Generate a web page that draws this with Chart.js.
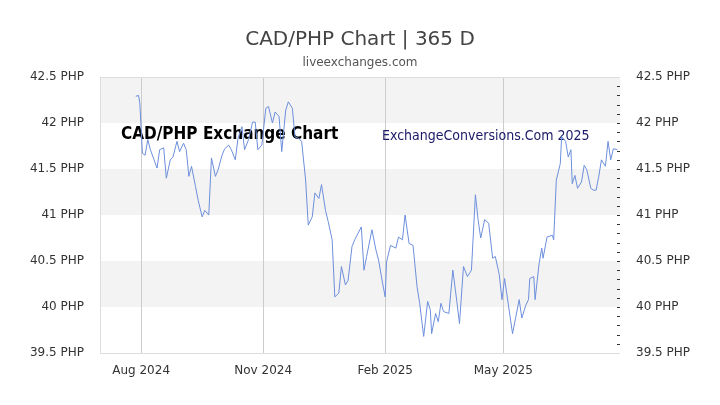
<!DOCTYPE html>
<html lang="en">
<head>
<meta charset="UTF-8">
<title>CAD/PHP Chart</title>
<script src="https://cdn.jsdelivr.net/npm/chart.js"></script>
<style>
  html, body { margin: 0; padding: 0; background: #fff; }
  #wrap { width: 720px; height: 405px; }
</style>
</head>
<body>
<div id="wrap"><canvas id="rateChart" width="720" height="405"></canvas></div>
<script>
// days since 26 Jul 2024
const days = [2,4,5,7,9,11,13,15,18,20,23,25,28,30,33,35,38,40,42,44,47,49,52,54,57,59,62,64,67,69,72,74,77,79,82,84,87,90,92,94,97,100,102,105,107,110,112,115,117,120,122,125,127,130,132,135,137,140,142,145,147,150,152,155,157,160,162,165,167,172,
  174,176,180,183,185,188,190,191,194,198,200,203,205,208,211,214,216,219,222,224,225,228,230,232,234,238,241,244,246,249,252,255,258,260,262,265,268,271,273,276,278,280,282,286,288,291,293,296,298,299,302,303,306,308,309,312,316,317,319,322,323,326,328,330,331,333,335,338,340,342,345,347,349,351,353,356,358,360,362,365];
const rates = [42.29,42.30,42.22,41.67,41.65,41.82,41.71,41.63,41.51,41.71,41.73,41.40,41.60,41.63,41.80,41.69,41.78,41.71,41.42,41.53,41.31,41.16,40.98,41.05,41.00,41.62,41.42,41.49,41.65,41.72,41.76,41.71,41.60,41.83,41.96,41.71,41.82,42.01,42.01,41.71,41.76,42.16,42.18,42.00,42.12,42.07,41.69,42.14,42.23,42.16,41.85,41.83,41.80,41.38,40.89,40.98,41.24,41.18,41.33,41.05,40.93,40.73,40.11,40.15,40.44,40.24,40.29,40.66,40.73,40.87,
  40.40,40.55,40.84,40.62,40.51,40.26,40.11,40.49,40.67,40.64,40.76,40.73,41.00,40.69,40.67,40.22,40.04,39.68,40.06,39.97,39.71,39.93,39.84,40.04,39.95,39.93,40.40,40.06,39.82,40.44,40.33,40.40,41.22,40.95,40.75,40.95,40.91,40.53,40.55,40.35,40.08,40.31,40.11,39.71,39.86,40.08,39.88,40.02,40.08,40.31,40.33,40.08,40.47,40.64,40.53,40.76,40.78,40.73,41.38,41.56,41.85,41.80,41.63,41.71,41.34,41.43,41.29,41.36,41.54,41.49,41.29,41.27,41.27,41.42,41.60,41.53,41.80,41.60,41.72,41.71];
const tickDays = [6, 98, 190, 279];
const tickLabels = ["Aug 2024", "Nov 2024", "Feb 2025", "May 2025"];
const yTicks = [39.5, 40, 40.5, 41, 41.5, 42, 42.5];

const points = days.map((d, i) => ({ x: d, y: rates[i] }));

// background bands, titles, watermark, minor ticks
const decor = {
  id: 'decor',
  beforeDatasetsDraw(chart) {
    const { ctx, chartArea: a, scales: { y } } = chart;
    ctx.save();
    ctx.fillStyle = '#f3f3f3';
    for (let v = 42.5; v > 39.5; v -= 1) {
      ctx.fillRect(a.left, y.getPixelForValue(v), a.right - a.left, y.getPixelForValue(v - 0.5) - y.getPixelForValue(v));
    }
    ctx.strokeStyle = '#cccccc';
    ctx.lineWidth = 1;
    chart.scales.x.ticks.forEach(t => {
      const px = Math.round(chart.scales.x.getPixelForValue(t.value)) + 0.5;
      ctx.beginPath(); ctx.moveTo(px, a.top); ctx.lineTo(px, a.bottom); ctx.stroke();
    });
    ctx.strokeStyle = '#dddddd';
    ctx.beginPath();
    ctx.moveTo(a.left, a.top + 0.5); ctx.lineTo(a.right, a.top + 0.5);
    ctx.moveTo(a.left, a.bottom + 0.5); ctx.lineTo(a.right, a.bottom + 0.5);
    ctx.moveTo(a.left + 0.5, a.top); ctx.lineTo(a.left + 0.5, a.bottom);
    ctx.stroke();
    ctx.strokeStyle = '#333';
    for (let v = 39.6; v < 42.5; v += 0.1) {
      const py = Math.round(y.getPixelForValue(v)) + 0.5;
      ctx.beginPath(); ctx.moveTo(a.right - 3, py); ctx.lineTo(a.right, py); ctx.stroke();
    }
    ctx.font = 'bold 17px "Liberation Sans Narrow", "DejaVu Sans Condensed", sans-serif';
    ctx.fillStyle = '#000';
    ctx.textBaseline = 'middle';
    ctx.fillText('CAD/PHP Exchange Chart', 121, 135);
    ctx.font = '14px "Liberation Sans Narrow", "DejaVu Sans Condensed", sans-serif';
    ctx.fillStyle = '#1a1a66';
    ctx.fillText('ExchangeConversions.Com 2025', 382, 136);
    ctx.restore();
  },
  afterDraw(chart) {
    const { ctx } = chart;
    ctx.save();
    ctx.textAlign = 'center';
    ctx.textBaseline = 'middle';
    ctx.fillStyle = '#444';
    ctx.font = '20px "DejaVu Sans", sans-serif';
    ctx.fillText('CAD/PHP Chart | 365 D', 360, 40);
    ctx.font = '12px "DejaVu Sans", sans-serif';
    ctx.fillStyle = '#555';
    ctx.fillText('liveexchanges.com', 360, 63);
    ctx.restore();
  }
};

const yCommon = {
  min: 39.5, max: 42.5,
  grid: { display: false },
  border: { display: false },
  afterBuildTicks: s => { s.ticks = yTicks.map(v => ({ value: v })); },
  afterFit: s => { s.width = 100; },
  ticks: { color: '#333', font: { size: 12, family: '"DejaVu Sans", sans-serif' }, padding: 8, callback: v => v + ' PHP' }
};

new Chart('rateChart', {
  type: 'line',
  data: {
    datasets: [{
      data: points,
      borderColor: '#6d8fdc',
      borderWidth: 1,
      pointRadius: 0,
      tension: 0,
      fill: false
    }]
  },
  options: {
    responsive: false,
    animation: false,
    layout: { padding: { top: 77, bottom: 0, left: 0, right: 0 } },
    plugins: { legend: { display: false }, tooltip: { enabled: false } },
    scales: {
      x: {
        type: 'linear', min: -25, max: 367,
        grid: { display: false },
        border: { display: false },
        afterBuildTicks: s => { s.ticks = tickDays.map(v => ({ value: v })); },
        afterFit: s => { s.height = 52; },
        ticks: {
          color: '#333', padding: 3, maxRotation: 0,
          font: { size: 12, family: '"DejaVu Sans", sans-serif' },
          callback: v => tickLabels[tickDays.indexOf(v)]
        }
      },
      y: Object.assign({}, yCommon, { position: 'left' }),
      y2: Object.assign({}, yCommon, { position: 'right' })
    }
  },
  plugins: [decor]
});
</script>
</body>
</html>
